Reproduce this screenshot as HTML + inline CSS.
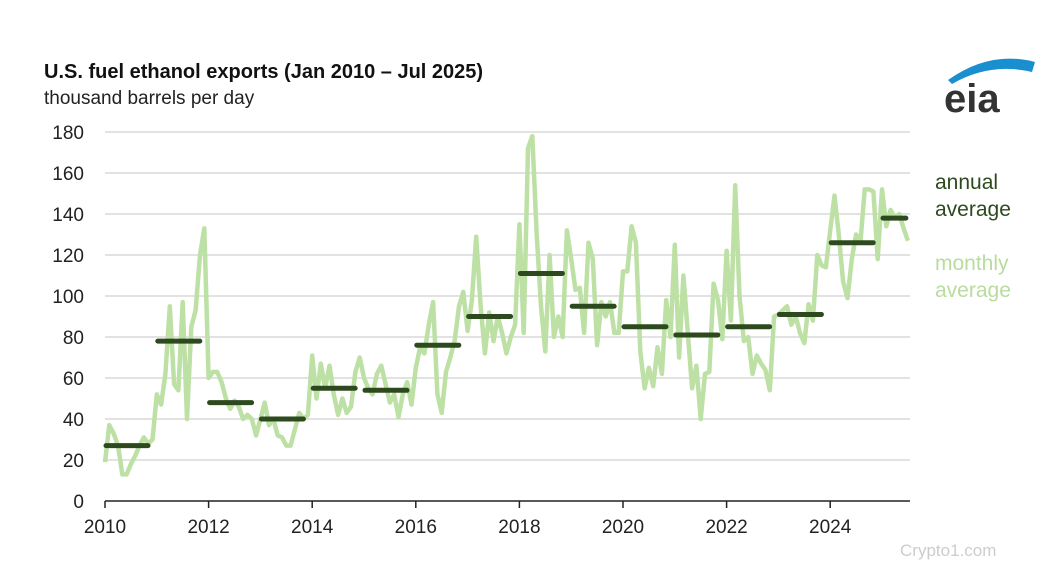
<!DOCTYPE html>
<html><head><meta charset="utf-8"><style>
body{margin:0;background:#fff;width:1054px;height:576px;overflow:hidden;font-family:"Liberation Sans",sans-serif}
</style></head><body>
<svg width="1054" height="576" font-family="Liberation Sans, sans-serif">
<text x="44" y="78" font-size="20" font-weight="bold" fill="#111">U.S. fuel ethanol exports (Jan 2010 – Jul 2025)</text>
<text x="44" y="104" font-size="19" fill="#222">thousand barrels per day</text>
<g>
<path d="M948 80 Q990 50 1035 62 L1032 72 Q990 62 952 84 Z" fill="#1a8fd0"/>
<text x="944" y="112" font-size="40" font-weight="bold" fill="#333">eia</text>
</g>
<g id="grid"></g><g id="axes"></g><g id="monthly"></g><g id="annual"></g>
<text x="935" y="189" font-size="21" fill="#2d4a1e"><tspan x="935">annual</tspan><tspan x="935" dy="27">average</tspan></text>
<text x="935" y="270" font-size="21" fill="#b9dc9e"><tspan x="935">monthly</tspan><tspan x="935" dy="27">average</tspan></text>
<text x="900" y="556" font-size="17" fill="#ccc">Crypto1.com</text>
</svg>
<script>
const yTicks=[0,20,40,60,80,100,120,140,160,180];
const xTickYears=[2010,2012,2014,2016,2018,2020,2022,2024];
const monthly=[19,37,33,27,13,13,18,22,27,31,28,30,
52,47,62,95,57,54,97,40,85,93,120,133,
60,63,63,58,50,45,49,46,40,42,40,32,
40,48,37,40,32,31,27,27,35,43,40,42,
71,50,67,55,66,52,42,50,43,46,63,70,
60,55,52,62,66,57,48,52,41,52,58,47,
65,75,72,86,97,52,43,63,70,78,95,102,
83,98,129,96,72,92,78,90,82,72,80,86,
135,82,172,178,130,95,73,120,80,90,80,132,
118,103,104,82,126,118,76,97,90,97,82,82,
112,112,134,126,73,55,65,56,75,62,98,80,
125,70,110,82,55,66,40,62,63,106,98,79,
122,88,154,100,78,80,62,71,67,64,54,90,
91,93,95,86,90,82,77,96,88,120,115,114,
132,149,130,107,99,118,130,126,152,152,151,118,
152,134,142,138,140,133,127];
const annualYears=[2010,2011,2012,2013,2014,2015,2016,2017,2018,2019,2020,2021,2022,2023,2024,2025];
const annualAvg=[27,78,48,40,55,54,76,90,111,95,85,81,85,91,126,138];
const X0=105,PXY=51.8,Y0=501,PXU=2.05,XR=910;
const xs=t=>X0+(t-2010)*PXY, ys=v=>Y0-v*PXU;
const NS='http://www.w3.org/2000/svg';
function mk(tag,attrs,parent){const e=document.createElementNS(NS,tag);for(const k in attrs)e.setAttribute(k,attrs[k]);document.getElementById(parent).appendChild(e);return e;}
yTicks.forEach(v=>{
 const l=mk('line',{x1:X0,x2:XR,y1:ys(v),y2:ys(v),stroke:v===0?'#222':'#d9d9d9','stroke-width':1.5},'grid');
 
 
 const t=mk('text',{x:84,y:ys(v)+7,'font-size':19,'text-anchor':'end',fill:'#222'},'axes');t.textContent=v;
 
 
});
xTickYears.forEach(y=>{
 const tk=mk('line',{x1:xs(y),x2:xs(y),y1:Y0,y2:Y0+7,stroke:'#222','stroke-width':1.5},'axes');
 
 
 const t=mk('text',{x:xs(y),y:Y0+32,'font-size':19,'text-anchor':'middle',fill:'#222'},'axes');t.textContent=y;
 
 
});
const pts=monthly.map((v,i)=>xs(2010+i/12).toFixed(1)+','+ys(v).toFixed(1)).join(' ');
const pl=mk('polyline',{points:pts,fill:'none',stroke:'#bde0a5','stroke-width':4.5,'stroke-linejoin':'round'},'monthly');


annualYears.forEach((y,i)=>{
 const l=mk('line',{x1:xs(y)+1,x2:(y===2025?xs(2025.5)-2:xs(y)+PXY*0.83),y1:ys(annualAvg[i]),y2:ys(annualAvg[i]),stroke:'#2d4a1e','stroke-width':5,'stroke-linecap':'round'},'annual');
 
 
});
</script>
</body></html>
